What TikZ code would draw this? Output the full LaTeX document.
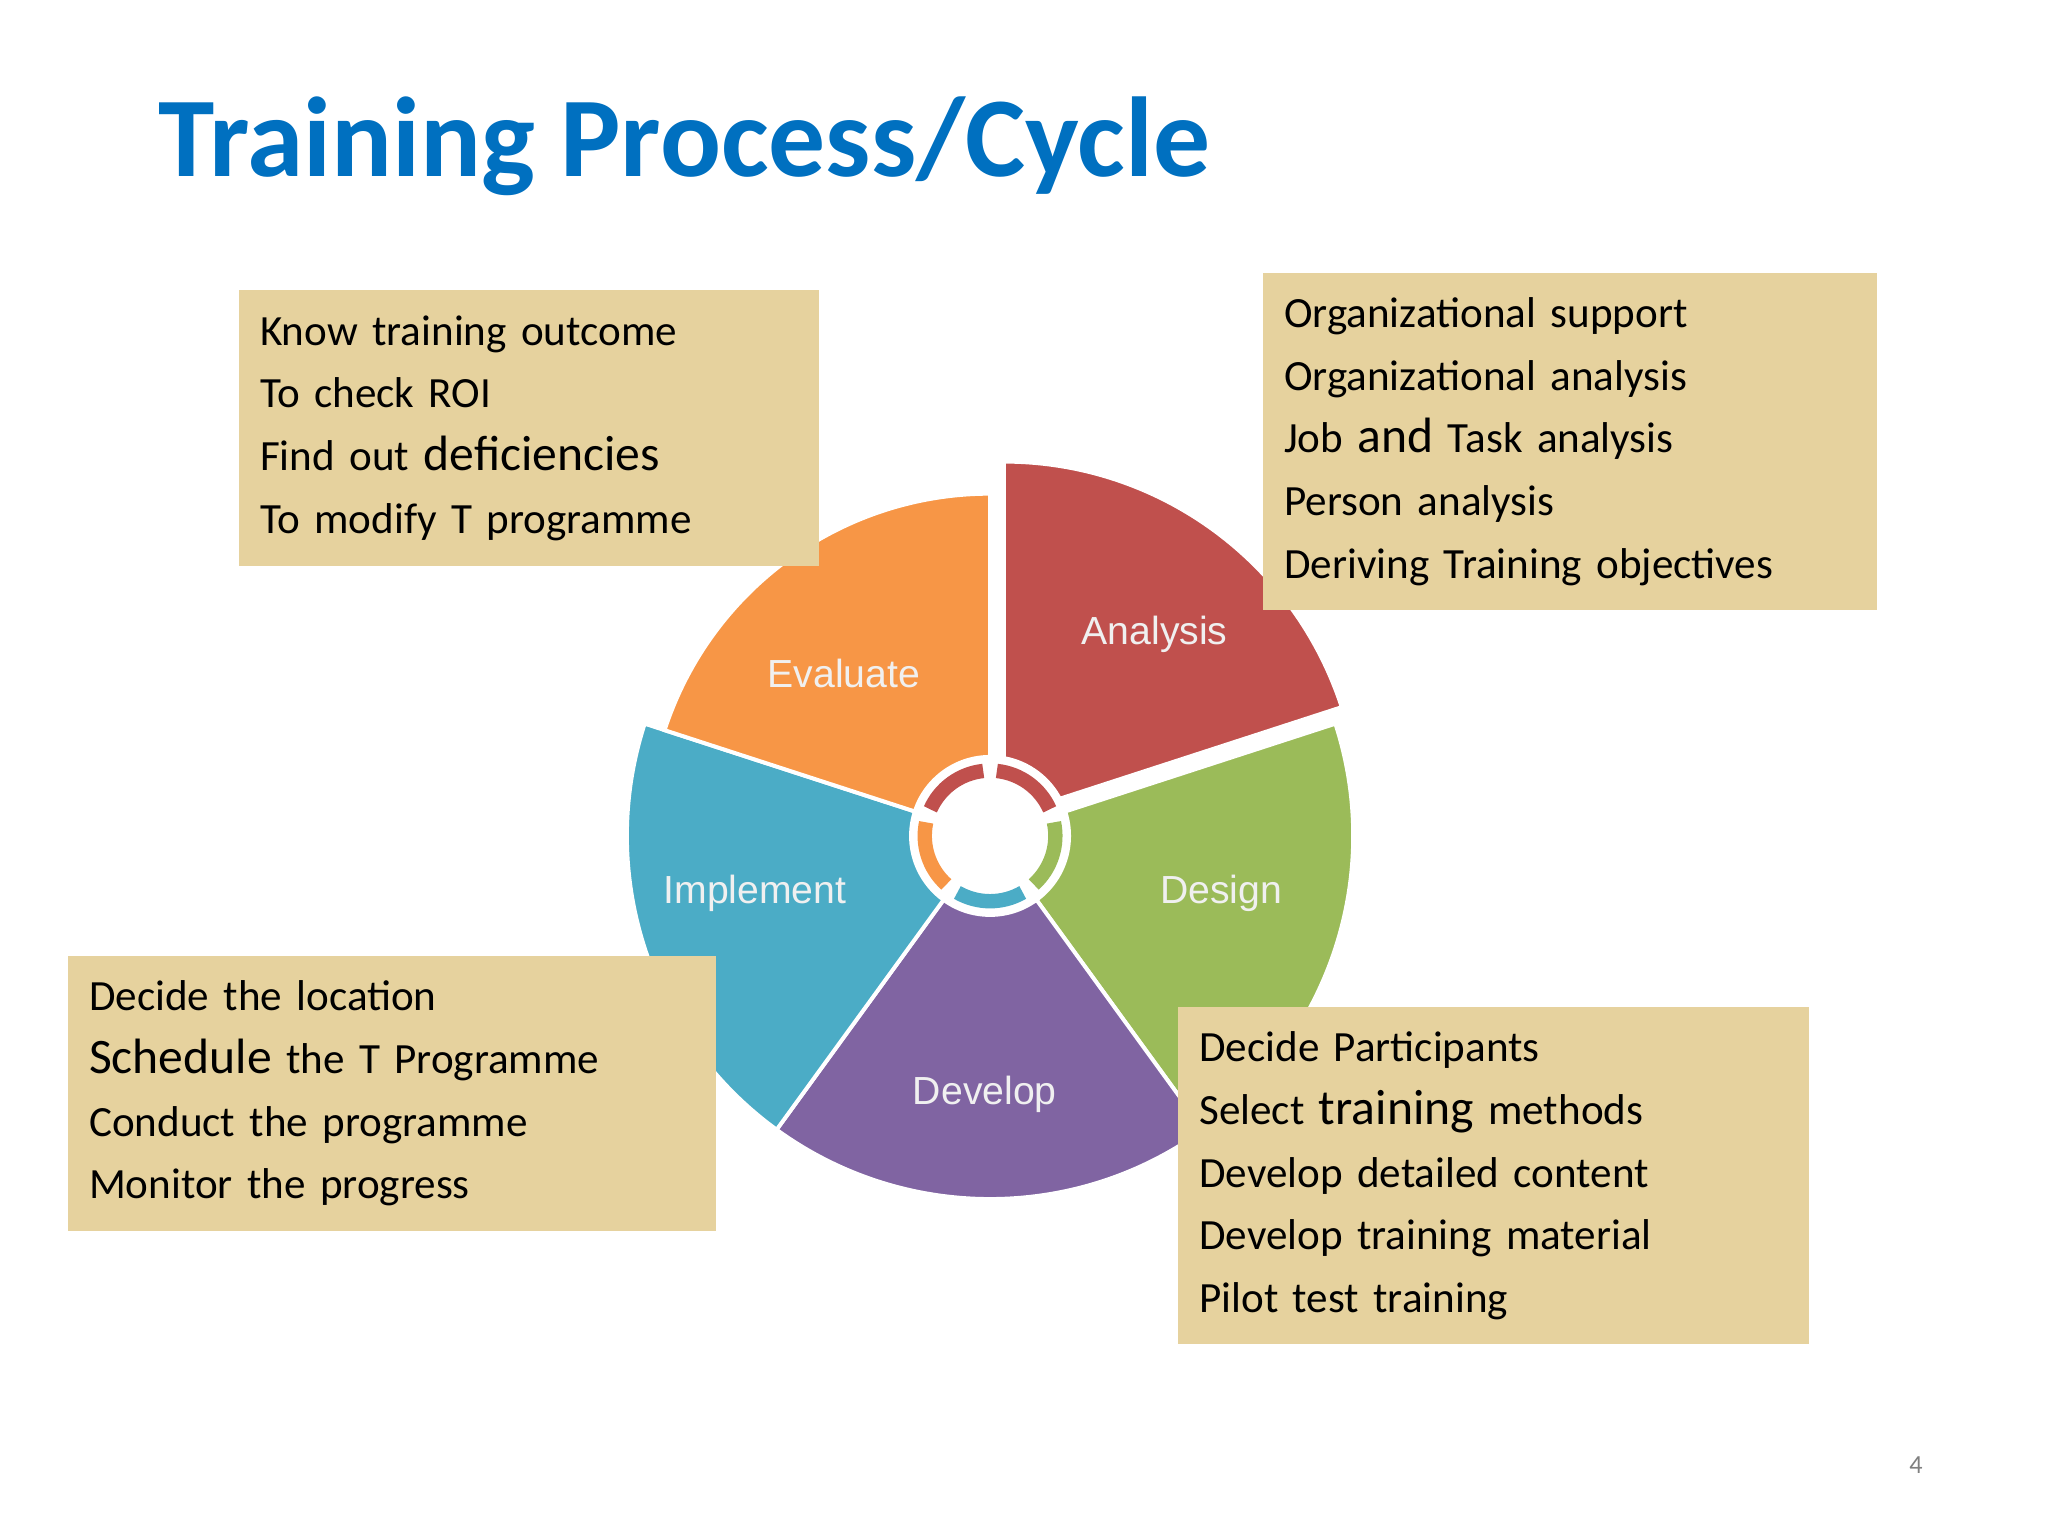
\documentclass[tikz,border=0pt]{standalone}
\usepackage{fontspec}
\usetikzlibrary{calc}
\setmainfont{Carlito}
\setsansfont{Liberation Sans}
\definecolor{tan}{HTML}{E6D29E}
\definecolor{titleblue}{HTML}{0070C0}
\definecolor{cred}{HTML}{C0504D}
\definecolor{cgreen}{HTML}{9BBB59}
\definecolor{cpurple}{HTML}{8064A2}
\definecolor{cblue}{HTML}{4BACC6}
\definecolor{corange}{HTML}{F79646}
\newcommand{\bg}[1]{{\fontsize{38}{48}\selectfont #1}}
\begin{document}
\begin{tikzpicture}[x=1pt,y=1pt,
  infobox/.style={fill=tan,anchor=north west,align=left,inner xsep=16pt,inner ysep=8pt,font=\fontsize{33}{48}\selectfont},
  slicelabel/.style={text=white!88!gray,font=\sffamily\fontsize{30}{30}\selectfont}]
\useasboundingbox (0,0) rectangle (1568,1176);
\fill[white] (0,0) rectangle (1568,1176);
\node[anchor=base west,text=titleblue,font=\bfseries\fontsize{87}{87}\selectfont] (title) at (118,1041) {Training Process/Cycle};
\coordinate (c) at (758,536);
\coordinate (cr) at ($(c)+(54:18)$);
% slices
\begin{scope}[draw=white,line width=3pt]
\filldraw[fill=cred] (cr) -- ++(18:272) arc[start angle=18,end angle=90,radius=272] -- cycle;
\filldraw[fill=cgreen] (c) -- ++(-54:278) arc[start angle=-54,end angle=18,radius=278] -- cycle;
\filldraw[fill=cpurple] (c) -- ++(-126:278) arc[start angle=-126,end angle=-54,radius=278] -- cycle;
\filldraw[fill=cblue] (c) -- ++(162:278) arc[start angle=162,end angle=234,radius=278] -- cycle;
\filldraw[fill=corange] (c) -- ++(90:262) arc[start angle=90,end angle=162,radius=262] -- cycle;
\end{scope}
% centre ring
\fill[white] (c) circle (62);
\foreach \a/\col in {54/cred,-18/cgreen,-90/cblue,-162/corange,126/cred}{
  \draw[\col,line width=11pt] ($(c)+(\a+30:50)$) arc[start angle=\a+30,end angle=\a-30,radius=50];
}
\fill[white] (c) circle (42);
\node[slicelabel] (an) at (884,690) {Analysis};
\node[slicelabel] (ev) at (646,660) {Evaluate};
\node[slicelabel] (im) at (578,492) {Implement};
\node[slicelabel] (de) at (935,492) {Design};
\node[slicelabel] (dv) at (754,338) {Develop};
% boxes
\node[infobox,text width=412pt,minimum height=211pt] (b1) at (183,954) {Know training outcome\\To check ROI\\Find out \bg{deficiencies}\\To modify T programme};
\node[infobox,text width=438pt,minimum height=258pt] (b2) at (967,967) {Organizational support\\Organizational analysis\\Job \bg{and} Task analysis\\Person analysis\\Deriving Training objectives};
\node[infobox,text width=464pt,minimum height=210pt] (b3) at (52,444) {Decide the location\\\bg{Schedule} the T Programme\\Conduct the programme\\Monitor the progress};
\node[infobox,text width=451pt,minimum height=258pt] (b4) at (902,405) {Decide Participants\\Select \bg{training} methods\\Develop detailed content\\Develop training material\\Pilot test training};
\node[text=gray,font=\fontsize{20}{20}\selectfont] (pg) at (1467,54) {4};
\end{tikzpicture}
\end{document}
